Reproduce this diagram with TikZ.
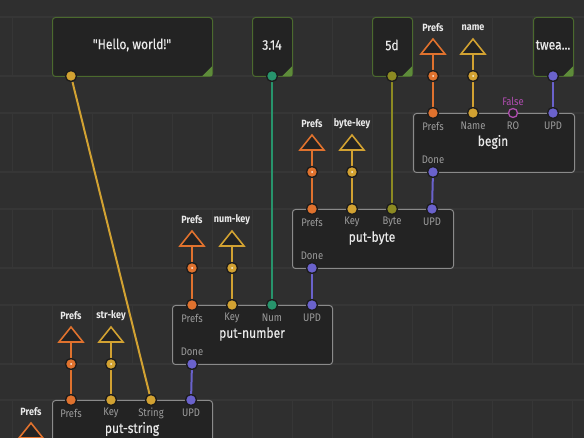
\documentclass[tikz,border=0pt]{standalone}
\usepackage{fontspec}
\setmainfont{Fira Sans}
\newfontfamily\condfont[FakeStretch=0.86]{Fira Sans}
\newfontfamily\medfont[FakeStretch=0.86,FakeBold=0.35]{Fira Sans}
\usetikzlibrary{calc}
\pgfdeclarelayer{back}
\pgfdeclarelayer{edges}
\pgfsetlayers{back,edges,main}
\definecolor{bgc}{HTML}{2F2F2F}
\definecolor{gridc}{HTML}{363636}
\definecolor{boxfill}{HTML}{232323}
\definecolor{boxedge}{HTML}{8A8A8A}
\definecolor{valedge}{HTML}{4B6A2E}
\definecolor{valcorner}{HTML}{5E8C3A}
\definecolor{pinedge}{HTML}{1C1C1C}
\definecolor{cOrange}{HTML}{E0722E}
\definecolor{cGold}{HTML}{D2A232}
\definecolor{cOlive}{HTML}{8C8A22}
\definecolor{cTeal}{HTML}{27946C}
\definecolor{cPurple}{HTML}{6A62CC}
\definecolor{cMagenta}{HTML}{B04DB0}
\definecolor{lblgray}{HTML}{9C9C9C}
\definecolor{txtwhite}{HTML}{EAEAEA}
\tikzset{
  fnbox/.style={draw=boxedge, fill=boxfill, line width=1pt, rounded corners=3pt, anchor=north west, inner sep=0pt},
  valbox/.style={draw=valedge, fill=boxfill, line width=1pt, rounded corners=3pt, anchor=north west, inner sep=0pt},
  valtext/.style={text=txtwhite, font=\medfont\fontsize{14}{16}\selectfont, inner sep=0pt},
  port/.style={circle, fill=#1, draw=pinedge, line width=1.3pt, minimum size=11pt, inner sep=0pt},
  hollowport/.style={circle, fill=boxfill, draw=#1, line width=1.3pt, minimum size=9pt, inner sep=0pt},
  smallport/.style={circle, fill=#1, draw=pinedge, line width=1.3pt, minimum size=11pt, inner sep=0pt,
     path picture={\fill[white!85!#1] (path picture bounding box.center) circle (1pt);}},
  plabel/.style={text=lblgray, font=\condfont\fontsize{11}{12}\selectfont, inner sep=0pt},
  tlabel/.style={text=txtwhite, font=\condfont\fontsize{10.5}{12}\selectfont\bfseries, inner sep=0pt},
  title/.style={text=txtwhite, font=\medfont\fontsize{14}{16}\selectfont, inner sep=0pt},
  wire/.style={draw=#1, line width=2pt},
  tri/.style={draw=#1, fill=boxfill, line width=1.6pt, line join=miter},
}
\newcommand{\valcorner}[1]{\fill[valcorner] ($(#1.south east)+(-0.8,-0.8)$) -- ++(0,-10) -- ++(-10,10) -- cycle;}
\begin{document}
\begin{tikzpicture}[x=1pt,y=-1pt]
\useasboundingbox (0,0) rectangle (584,438);
\begin{pgfonlayer}{back}
\fill[bgc] (0,0) rectangle (584,438);
\begin{scope}
\clip (0,0) rectangle (584,438);
\foreach \t in {17,113,209,305,400}{
  \draw[gridc, line width=1.3pt] (0,\t) -- (584,\t);
  \draw[gridc, line width=1.3pt] (0,\t+59) -- (584,\t+59);
  \foreach \k in {0,...,14}{
    \draw[gridc, line width=1pt] (12+40*\k,\t) -- (12+40*\k,\t+59);
  }
}
\end{scope}
\end{pgfonlayer}

% ---------- value nodes ----------
\node[valbox, minimum width=160pt, minimum height=59pt] (hello) at (52,17) {};
\node[valtext] (hellotxt) at (132,45) {"Hello, world!"};
\valcorner{hello}
\node[valbox, minimum width=40pt, minimum height=59pt] (pi) at (252,17) {};
\node[valtext] (pitxt) at (272,45) {3.14};
\valcorner{pi}
\node[valbox, minimum width=40pt, minimum height=59pt] (fived) at (372,17) {};
\node[valtext] (fivedtxt) at (392,45) {5d};
\valcorner{fived}
\node[valbox, minimum width=40pt, minimum height=59pt] (tweak) at (533,17) {};
\node[valtext] (tweaktxt) at (553,45) {twea...};
\valcorner{tweak}

\node[port=cGold] (helloOut) at (71,76) {};
\node[port=cTeal] (piOut) at (272,76) {};
\node[port=cOlive] (fivedOut) at (392,76) {};
\node[port=cPurple] (tweakOut) at (553,76) {};

% ---------- function nodes ----------
% begin
\node[fnbox, minimum width=161pt, minimum height=59pt] (begin) at (413,113) {};
\node[title] (beginT) at (493,142) {begin};
\node[port=cOrange] (bPrefs) at (433,113) {};
\node[port=cGold] (bName) at (473,113) {};
\node[hollowport=cMagenta] (bRO) at (513,113) {};
\node[port=cPurple] (bUPD) at (553,113) {};
\node[plabel] (bPrefsL) at (433,126) {Prefs};
\node[plabel] (bNameL) at (473,126) {Name};
\node[plabel] (bROL) at (513,126) {RO};
\node[plabel] (bUPDL) at (553,126) {UPD};
\node[plabel, text=cMagenta] (bFalse) at (513,101) {False};
\node[plabel] (bDoneL) at (433,160) {Done};
\node[port=cPurple] (bDone) at (433,172) {};

% put-byte
\node[fnbox, minimum width=161pt, minimum height=59pt] (pbyte) at (292,209) {};
\node[title] (pbyteT) at (372,238) {put-byte};
\node[port=cOrange] (pbPrefs) at (312,209) {};
\node[port=cGold] (pbKey) at (352,209) {};
\node[port=cOlive] (pbByte) at (392,209) {};
\node[port=cPurple] (pbUPD) at (432,209) {};
\node[plabel] (pbPrefsL) at (312,222) {Prefs};
\node[plabel] (pbKeyL) at (352,222) {Key};
\node[plabel] (pbByteL) at (392,222) {Byte};
\node[plabel] (pbUPDL) at (432,222) {UPD};
\node[plabel] (pbDoneL) at (312,256) {Done};
\node[port=cPurple] (pbDone) at (312,268) {};

% put-number
\node[fnbox, minimum width=160pt, minimum height=59pt] (pnum) at (172,305) {};
\node[title] (pnumT) at (252,334) {put-number};
\node[port=cOrange] (pnPrefs) at (192,305) {};
\node[port=cGold] (pnKey) at (232,305) {};
\node[port=cTeal] (pnNum) at (272,305) {};
\node[port=cPurple] (pnUPD) at (312,305) {};
\node[plabel] (pnPrefsL) at (192,318) {Prefs};
\node[plabel] (pnKeyL) at (232,318) {Key};
\node[plabel] (pnNumL) at (272,318) {Num};
\node[plabel] (pnUPDL) at (312,318) {UPD};
\node[plabel] (pnDoneL) at (192,352) {Done};
\node[port=cPurple] (pnDone) at (192,364) {};

% put-string
\node[fnbox, minimum width=160pt, minimum height=59pt] (pstr) at (52,400) {};
\node[title] (pstrT) at (132,429) {put-string};
\node[port=cOrange] (psPrefs) at (71,400) {};
\node[port=cGold] (psKey) at (111,400) {};
\node[port=cGold] (psString) at (151,400) {};
\node[port=cPurple] (psUPD) at (191,400) {};
\node[plabel] (psPrefsL) at (71,413) {Prefs};
\node[plabel] (psKeyL) at (111,413) {Key};
\node[plabel] (psStringL) at (151,413) {String};
\node[plabel] (psUPDL) at (191,413) {UPD};

% ---------- input terminals (triangles) ----------
\foreach \nm/\x/\y/\c/\l in {tbP/433/54/cOrange/Prefs, tbN/473/54/cGold/name,
   tpbP/312/150/cOrange/Prefs, tpbK/352/150/cGold/byte-key,
   tpnP/192/246/cOrange/Prefs, tpnK/232/246/cGold/num-key,
   tpsP/71/342/cOrange/Prefs, tpsK/111/342/cGold/str-key,
   tfP/31/438/cOrange/Prefs}{
  \coordinate (\nm) at (\x,\y);
  \draw[tri=\c] ($(\nm)+(-12,0)$) -- ($(\nm)+(12,0)$) -- ($(\nm)+(0,-15)$) -- cycle;
  \node[tlabel] (\nm L) at ($(\nm)+(0,-26)$) {\l};
}
\node[smallport=cOrange] (sbP) at (433,76) {};
\node[smallport=cGold] (sbN) at (473,76) {};
\node[smallport=cOrange] (spbP) at (312,172) {};
\node[smallport=cGold] (spbK) at (352,172) {};
\node[smallport=cOrange] (spnP) at (192,268) {};
\node[smallport=cGold] (spnK) at (232,268) {};
\node[smallport=cOrange] (spsP) at (71,364) {};
\node[smallport=cGold] (spsK) at (111,364) {};

% ---------- connectors ----------
\begin{pgfonlayer}{edges}
\draw[wire=cOrange] (tbP) -- (sbP) -- (bPrefs);
\draw[wire=cGold] (tbN) -- (sbN) -- (bName);
\draw[wire=cOrange] (tpbP) -- (spbP) -- (pbPrefs);
\draw[wire=cGold] (tpbK) -- (spbK) -- (pbKey);
\draw[wire=cOrange] (tpnP) -- (spnP) -- (pnPrefs);
\draw[wire=cGold] (tpnK) -- (spnK) -- (pnKey);
\draw[wire=cOrange] (tpsP) -- (spsP) -- (psPrefs);
\draw[wire=cGold] (tpsK) -- (spsK) -- (psKey);
\draw[wire=cGold] (helloOut) -- (psString);
\draw[wire=cTeal] (piOut) -- (pnNum);
\draw[wire=cOlive] (fivedOut) -- (pbByte);
\draw[wire=cPurple] (tweakOut) -- (bUPD);
\draw[wire=cPurple] (bDone) -- (pbUPD);
\draw[wire=cPurple] (pbDone) -- (pnUPD);
\draw[wire=cPurple] (pnDone) -- (psUPD);
\end{pgfonlayer}
\end{tikzpicture}
\end{document}
